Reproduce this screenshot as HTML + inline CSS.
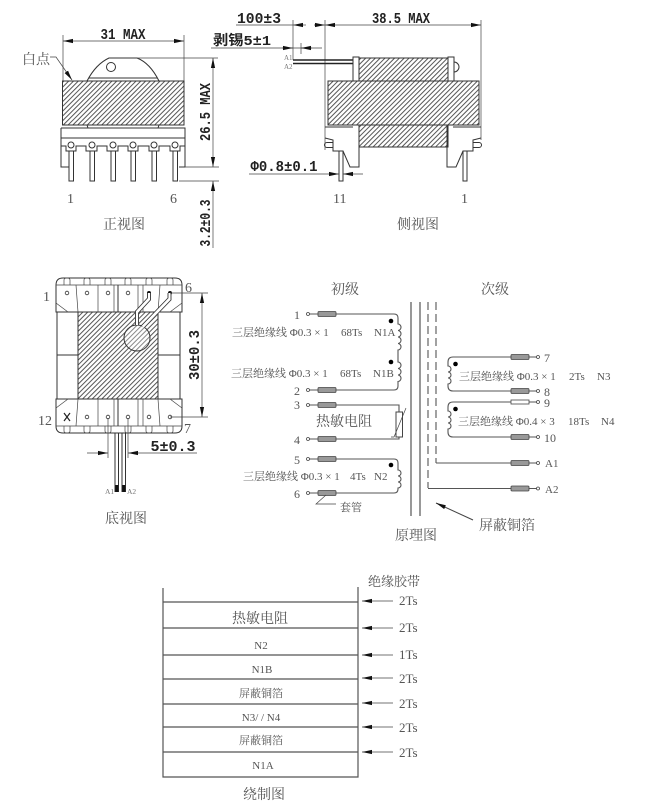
<!DOCTYPE html>
<html><head><meta charset="utf-8"><style>
html,body{margin:0;padding:0;background:#fff}
svg{display:block;filter:blur(.35px)}
.l{fill:none;stroke:#333;stroke-width:1}
.t{fill:none;stroke:#444;stroke-width:.7}
.w{fill:none;stroke:#555;stroke-width:1.1}
.d{font-family:"Liberation Mono",monospace;font-weight:bold;font-size:15px;fill:#222}
.s{font-family:"Liberation Serif","Noto Serif CJK SC",serif;fill:#555}
.c{font-family:"Liberation Serif","Noto Serif CJK SC",serif;fill:#555;font-size:14px;text-anchor:middle}
.n{font-family:"Liberation Serif","Noto Serif CJK SC",serif;fill:#777}
.m{text-anchor:middle}
</style></head><body>
<svg width="650" height="812" viewBox="0 0 650 812" xmlns="http://www.w3.org/2000/svg">
<defs>
<pattern id="h" width="3.4" height="3.4" patternUnits="userSpaceOnUse" patternTransform="rotate(45)"><rect width="3.4" height="3.4" fill="#fff"/><rect width="1" height="3.4" fill="#555"/></pattern>
<marker id="a" markerUnits="userSpaceOnUse" markerWidth="11" markerHeight="6" refX="10" refY="3" orient="auto-start-reverse"><path d="M0,.9 L10,3 L0,5.100Z" fill="#111"/></marker>
<g id="sl"><rect x="0" y="-2.500" width="18" height="5" rx="1" fill="#999" stroke="#444" stroke-width=".8"/></g>
<g id="tb"><path class="t" d="M-3,0 v-5 q0,-2 3,-2 q3,0 3,2 v5"/></g>
</defs>

<!-- FRONT VIEW -->
<path class="t" d="M63,35 V81 M184,35 V81"/>
<path class="t" d="M63,41 H184" marker-start="url(#a)" marker-end="url(#a)"/>
<text class="d m" x="123" y="39" textLength="45" lengthAdjust="spacingAndGlyphs">31 MAX</text>
<text class="s" x="22" y="64" font-size="14">白点</text>
<path class="t" d="M50,57 H56 L72,80" marker-end="url(#a)"/>
<path class="l" d="M87,81 Q96,64 109,58 H137 Q150,63 159,81 M89,78 H157"/>
<circle class="l" cx="111" cy="67" r="4.5"/>
<rect x="62.500" y="81" width="121.500" height="44" fill="url(#h)" stroke="#333"/>
<path class="t" d="M137,58 H218"/>
<path class="l" d="M87,125 L88,128 M159,125 L158,128"/>
<path class="l" d="M61,128 H185 V167 H179 M61,128 V167 H69 M61,138 H185"/>
<path class="l" d="M61,146 H66 V151 H76 V146 H86 V151 H97 V146 H107 V151 H118 V146 H128 V151 H138 V146 H149 V151 H159 V146 H170 V151 H180 V146 H185"/>
<g fill="#fff" stroke="#333">
<circle cx="71" cy="145" r="3"/><circle cx="92" cy="145" r="3"/><circle cx="113" cy="145" r="3"/><circle cx="133" cy="145" r="3"/><circle cx="154" cy="145" r="3"/><circle cx="175" cy="145" r="3"/>
<rect x="69" y="151" width="4.500" height="30"/><rect x="90" y="151" width="4.500" height="30"/><rect x="111" y="151" width="4.500" height="30"/><rect x="131" y="151" width="4.500" height="30"/><rect x="152" y="151" width="4.500" height="30"/><rect x="173" y="151" width="4.500" height="30"/>
</g>
<path class="t" d="M185,167 H219 M179,181 H219"/>
<path class="t" d="M213,58 V167" marker-start="url(#a)" marker-end="url(#a)"/>
<path class="t" d="M213,181 V248" marker-start="url(#a)"/>
<text class="d m" transform="translate(210,112) rotate(-90)" textLength="58" lengthAdjust="spacingAndGlyphs">26.5 MAX</text>
<text class="d m" transform="translate(210,223) rotate(-90)" textLength="47" lengthAdjust="spacingAndGlyphs">3.2±0.3</text>
<text class="s" x="67" y="203" font-size="14">1</text>
<text class="s" x="170" y="203" font-size="14">6</text>
<text class="c" x="124" y="229">正视图</text>

<!-- SIDE VIEW -->
<path class="t" d="M236,25 H293 M293,20 V60 M325,20 V150 M481,20 V140"/>
<path class="t" d="M306,25 H293" marker-end="url(#a)"/><path class="t" d="M314,25 H325" marker-end="url(#a)"/>
<path class="t" d="M325,25 H481" marker-start="url(#a)" marker-end="url(#a)"/>
<text class="d m" x="259" y="23" textLength="44" lengthAdjust="spacingAndGlyphs">100±3</text>
<text class="d m" x="401" y="23" textLength="58" lengthAdjust="spacingAndGlyphs">38.5 MAX</text>
<path class="t" d="M211,48 H322 M301,43 V54"/>
<path class="t" d="M282,48 H293" marker-end="url(#a)"/><path class="t" d="M312,48 H301" marker-end="url(#a)"/>
<text x="213" y="45" textLength="58" lengthAdjust="spacingAndGlyphs" font-family="'Liberation Mono','Noto Sans CJK SC',monospace" font-weight="bold" font-size="14" fill="#222">剥锡5±1</text>
<text class="n" x="284" y="60" font-size="7">A1</text><text class="n" x="284" y="69" font-size="7">A2</text>
<path d="M293,60 H353 M293,63.500 H353" stroke="#222" stroke-width="1.500"/>
<rect x="359" y="58" width="89" height="23" fill="url(#h)" stroke="#333"/>
<rect x="359" y="125" width="89" height="22" fill="url(#h)" stroke="#333"/>
<rect x="328" y="81" width="151" height="44" fill="url(#h)" stroke="#333"/>
<path class="l" d="M353,57 H359 V81 H353Z M448,57 H454 V81 H448Z"/>
<path class="l" d="M454,62 A5,5 0 0 1 454,72"/>
<path class="l" d="M325,127 H353 M359,125 V167 H350 L343,151 M339,151 H333 V140 L325,138 M327,147.500 a2.500,2.500 0 0 1 0,-5 H333 M327,147.500 H333"/>
<rect x="339" y="151" width="4" height="30" fill="#fff" stroke="#333"/>
<path class="l" d="M481,127 H453 M447,125 V167 H456 L463,151 M467,151 H473 V140 L481,138 M479,147.500 a2.500,2.500 0 0 0 0,-5 H473 M479,147.500 H473"/>
<rect x="463" y="151" width="4" height="30" fill="#fff" stroke="#333"/>
<path class="t" d="M249,174 H339" marker-end="url(#a)"/><path class="t" d="M363,174 H343" marker-end="url(#a)"/>
<text class="d m" x="284" y="171" textLength="67" lengthAdjust="spacingAndGlyphs">Φ0.8±0.1</text>
<text class="s" x="333" y="203" font-size="14">11</text>
<text class="s" x="461" y="203" font-size="14">1</text>
<text class="c" x="418" y="229">侧视图</text>

<!-- BOTTOM VIEW -->
<rect x="78" y="312" width="80" height="87" fill="url(#h)" stroke="#333"/>
<path class="l" d="M63,278 H175 Q182,278 182,285 V312 H56 V285 Q56,278 63,278Z M63,433 H175 Q182,433 182,426 V399 H56 V426 Q56,433 63,433Z"/>
<path class="l" d="M57,312 V399 M180,312 V399 M57,355 H78 M158,355 H180"/>
<g transform="translate(67,285)"><use href="#tb"/></g><g transform="translate(87,285)"><use href="#tb"/></g><g transform="translate(108,285)"><use href="#tb"/></g><g transform="translate(128,285)"><use href="#tb"/></g><g transform="translate(149,285)"><use href="#tb"/></g><g transform="translate(170,285)"><use href="#tb"/></g>
<g transform="translate(67,426) scale(1,-1)"><use href="#tb"/></g><g transform="translate(87,426) scale(1,-1)"><use href="#tb"/></g><g transform="translate(108,426) scale(1,-1)"><use href="#tb"/></g><g transform="translate(128,426) scale(1,-1)"><use href="#tb"/></g><g transform="translate(149,426) scale(1,-1)"><use href="#tb"/></g><g transform="translate(170,426) scale(1,-1)"><use href="#tb"/></g>
<path class="t" d="M56,285 H182 M56,426 H182"/>
<path class="l" d="M118,285 V312 M118,399 V426"/>
<path class="t" d="M76,285 L78,312 M98,285 V312 M114,285 V312 M138,285 V312 M143,285 V312 M160,285 L158,312 M56,303 L68,312 M182,303 L170,312"/>
<path class="t" d="M76,426 L78,399 M98,426 V399 M114,426 V399 M138,426 V399 M143,426 V399 M160,426 L158,399 M56,408 L68,399 M182,408 L170,399"/>
<g fill="#fff" stroke="#333" stroke-width=".8">
<circle cx="67" cy="293" r="1.800"/><circle cx="87" cy="293" r="1.800"/><circle cx="108" cy="293" r="1.800"/><circle cx="128" cy="293" r="1.800"/>
<circle cx="87" cy="417" r="1.800"/><circle cx="108" cy="417" r="1.800"/><circle cx="128" cy="417" r="1.800"/><circle cx="149" cy="417" r="1.800"/><circle cx="170" cy="417" r="1.800"/>
</g>
<circle cx="149" cy="293" r="2" fill="#111"/><circle cx="170" cy="293" r="2" fill="#111"/>
<path d="M64,413 L70,421 M70,413 L64,421" stroke="#222" stroke-width="1.200"/>
<circle cx="137" cy="338" r="13" fill="#fff" fill-opacity=".3" stroke="#333"/>
<path d="M149,293 V299 L137,312 V325 M169.500,293 V299 L143,327" fill="none" stroke="#fff" stroke-width="4"/>
<path d="M147.500,293 V298 L135.500,311 V325 M150.500,293 V300 L138.500,313 V325 M168,293 V298 L141,326 M171,293 V300 L144,328" fill="none" stroke="#333" stroke-width=".9"/>
<path class="t" d="M170,293 H208 M170,417 H208"/>
<path class="t" d="M202,293 V417" marker-start="url(#a)" marker-end="url(#a)"/>
<text class="d m" transform="translate(199,355) rotate(-90)" textLength="50" lengthAdjust="spacingAndGlyphs">30±0.3</text>
<path class="t" d="M108,418 V458 M128,418 V458"/>
<path class="t" d="M87,453 H108" marker-end="url(#a)"/><path class="t" d="M197,453 H128" marker-end="url(#a)"/>
<text class="d m" x="173" y="451" textLength="45" lengthAdjust="spacingAndGlyphs">5±0.3</text>
<path d="M115,433 V492 M118.500,433 V492 M122,433 V492 M125.500,433 V492" stroke="#333" stroke-width="1"/>
<path d="M116.800,485 V492 M123.800,485 V492" stroke="#111" stroke-width="3"/>
<text class="n" x="105" y="494" font-size="7.500">A1</text><text class="n" x="127" y="494" font-size="7.500">A2</text>
<text class="s" x="43" y="301" font-size="14">1</text>
<text class="s" x="185" y="292" font-size="14">6</text>
<text class="s" x="38" y="425" font-size="14">12</text>
<text class="s" x="184" y="433" font-size="14">7</text>
<text class="c" x="126" y="523">底视图</text>

<!-- SCHEMATIC -->
<text class="c" x="345" y="294">初级</text>
<text class="c" x="495" y="294">次级</text>
<path d="M411,302 V516 M420,302 V516" stroke="#555" stroke-width="1.200" fill="none"/>
<path d="M428,302 V488 M436,302 V463" stroke="#555" stroke-width="1.100" fill="none" stroke-dasharray="8,4"/>
<path d="M428,488.500 H511 M436,463 H511" stroke="#555" stroke-width="1.100" fill="none"/>
<path class="w" d="M308,314 H394 Q398,314 398,318 V324 a3,3.250 0 0 1 0,6.500 a3,3.250 0 0 1 0,6.500 a3,3.250 0 0 1 0,6.500 a3,3.250 0 0 1 0,6.500 V362 a3,3.250 0 0 1 0,6.500 a3,3.250 0 0 1 0,6.500 a3,3.250 0 0 1 0,6.500 V386 Q398,390 394,390 H308"/>
<path class="w" d="M308,405 H399 V412 M399,437 V439 H308 M308,459 H394 Q398,459 398,463 V470 a3,3 0 0 1 0,6 a3,3 0 0 1 0,6 a3,3 0 0 1 0,6 V489 Q398,493 394,493 H308"/>
<rect x="396" y="412" width="6.500" height="25" fill="#fff" stroke="#444"/>
<path class="t" d="M391,437 L394,437 L406,408"/>
<circle cx="391" cy="321" r="2.300" fill="#000"/><circle cx="391" cy="362" r="2.300" fill="#000"/><circle cx="391" cy="465" r="2.300" fill="#000"/>
<g transform="translate(318,0)">
<use href="#sl" y="314"/><use href="#sl" y="390"/><use href="#sl" y="405"/><use href="#sl" y="439"/><use href="#sl" y="459"/><use href="#sl" y="493"/>
</g>
<g fill="#fff" stroke="#444" stroke-width=".8"><circle cx="308" cy="314" r="1.500"/><circle cx="308" cy="390" r="1.500"/><circle cx="308" cy="405" r="1.500"/><circle cx="308" cy="439" r="1.500"/><circle cx="308" cy="459" r="1.500"/><circle cx="308" cy="493" r="1.500"/></g>
<g class="s" font-size="11">
<text x="294" y="319" font-size="12">1</text><text x="294" y="395" font-size="12">2</text><text x="294" y="409" font-size="12">3</text><text x="294" y="444" font-size="12">4</text><text x="294" y="464" font-size="12">5</text><text x="294" y="498" font-size="12">6</text>
<text x="232" y="336">三层绝缘线 Φ0.3 × 1</text><text x="341" y="336">68Ts</text><text x="374" y="336">N1A</text>
<text x="231" y="377">三层绝缘线 Φ0.3 × 1</text><text x="340" y="377">68Ts</text><text x="373" y="377">N1B</text>
<text x="243" y="480">三层绝缘线 Φ0.3 × 1</text><text x="350" y="480">4Ts</text><text x="374" y="480">N2</text>
<text x="316" y="426" font-size="14">热敏电阻</text>
<text x="340" y="511" font-size="11">套管</text>
</g>
<path class="t" d="M326,495 L316,504 H336"/>
<text class="c" x="416" y="540">原理图</text>

<path class="w" d="M529,357 H453 Q448,357 448,362 V366 a3,3 0 0 1 0,6 a3,3 0 0 1 0,6 a3,3 0 0 1 0,6 V386 Q448,391 453,391 H529"/>
<path class="w" d="M529,402 H453 Q448,402 448,407 V411 a3,3 0 0 1 0,6 a3,3 0 0 1 0,6 a3,3 0 0 1 0,6 V432 Q448,437 453,437 H529"/>
<path class="w" d="M529,357 H538 M529,391 H538 M529,402 H538 M529,437 H538 M529,463 H538 M529,488.500 H538"/>
<circle cx="455.500" cy="364" r="2.300" fill="#000"/><circle cx="455.500" cy="409" r="2.300" fill="#000"/>
<g transform="translate(511,0)"><use href="#sl" y="357"/><use href="#sl" y="391"/><rect x="0" y="400" width="18" height="4" fill="#fff" stroke="#444" stroke-width=".8"/><use href="#sl" y="437"/><use href="#sl" y="463"/><use href="#sl" y="488.500"/></g>
<g fill="#fff" stroke="#444" stroke-width=".8"><circle cx="538" cy="357" r="1.500"/><circle cx="538" cy="391" r="1.500"/><circle cx="538" cy="402" r="1.500"/><circle cx="538" cy="437" r="1.500"/><circle cx="538" cy="463" r="1.500"/><circle cx="538" cy="488.500" r="1.500"/></g>
<g class="s" font-size="11">
<text x="544" y="362" font-size="12">7</text><text x="544" y="396" font-size="12">8</text><text x="544" y="407" font-size="12">9</text><text x="544" y="442" font-size="12">10</text><text x="545" y="467" font-size="11">A1</text><text x="545" y="493" font-size="11">A2</text>
<text x="459" y="380">三层绝缘线 Φ0.3 × 1</text><text x="569" y="380">2Ts</text><text x="597" y="380">N3</text>
<text x="458" y="425">三层绝缘线 Φ0.4 × 3</text><text x="568" y="425">18Ts</text><text x="601" y="425">N4</text>
</g>
<path class="t" d="M473,520 L436,503" style="stroke-width:1" marker-end="url(#a)"/>
<text class="c" x="507" y="530">屏蔽铜箔</text>

<!-- WINDING -->
<path d="M163,588 V777 H358 V587" fill="none" stroke="#555" stroke-width="1.200"/>
<path d="M163,602 H358 M163,628 H358 M163,655 H358 M163,679 H358 M163,704 H358 M163,727 H358 M163,752 H358" stroke="#555" stroke-width="1.200"/>
<path class="t" d="M393,601 H362" marker-end="url(#a)"/><path class="t" d="M393,628 H362" marker-end="url(#a)"/><path class="t" d="M393,655 H362" marker-end="url(#a)"/><path class="t" d="M393,678 H362" marker-end="url(#a)"/><path class="t" d="M393,703 H362" marker-end="url(#a)"/><path class="t" d="M393,727 H362" marker-end="url(#a)"/><path class="t" d="M393,752 H362" marker-end="url(#a)"/>
<g class="s" font-size="13">
<text x="399" y="605">2Ts</text><text x="399" y="632">2Ts</text><text x="399" y="659">1Ts</text><text x="399" y="683">2Ts</text><text x="399" y="708">2Ts</text><text x="399" y="732">2Ts</text><text x="399" y="757">2Ts</text>
</g>
<text class="c" x="394" y="586" style="font-size:13px">绝缘胶带</text>
<text class="c" x="260" y="623">热敏电阻</text>
<g class="s" font-size="11" text-anchor="middle">
<text x="261" y="649">N2</text><text x="262" y="673">N1B</text><text x="261" y="697">屏蔽铜箔</text><text x="261" y="721">N3/ / N4</text><text x="261" y="744">屏蔽铜箔</text><text x="263" y="769">N1A</text>
</g>
<text class="c" x="264" y="799">绕制图</text>
</svg>
</body></html>
